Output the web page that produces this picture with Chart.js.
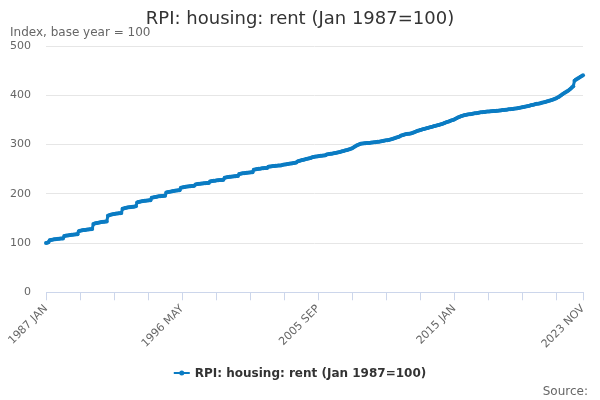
<!DOCTYPE html>
<html>
<head>
<meta charset="utf-8">
<script src="https://cdn.jsdelivr.net/npm/chart.js@4.4.0/dist/chart.umd.min.js"></script>
<style>
  html, body { margin: 0; padding: 0; background: #fff; }
  #wrap { width: 600px; height: 400px; }
</style>
</head>
<body>
<div id="wrap"><canvas id="myChart" width="600" height="400"></canvas></div>
<script>
const TITLE = "RPI: housing: rent (Jan 1987=100)";
const Y_UNITS = "Index, base year = 100";
const SERIES_NAME = "RPI: housing: rent (Jan 1987=100)";
const SOURCE = "Source:";

const years = [1987, 1988, 1989, 1990, 1991, 1992, 1993, 1994, 1995, 1996, 1997, 1998,
	1999, 2000, 2001, 2002, 2003, 2004, 2005, 2006, 2007, 2008, 2009, 2010, 2011, 2012,
	2013, 2014, 2015, 2016, 2017, 2018, 2019, 2020, 2021, 2022, 2023];
const monthNames = ["JAN", "FEB", "MAR", "APR", "MAY", "JUN", "JUL", "AUG", "SEP", "OCT", "NOV", "DEC"];
const lastMonthOfLastYear = 11; // series ends 2023 NOV

// monthly index values, one row per year
const rentValues = [
	100.0, 100.8, 101.5, 105.5, 106.2, 106.7, 107.1, 107.5, 107.9, 108.2, 108.5, 108.8, // 1987
	109.0, 109.2, 109.4, 114.0, 114.6, 115.1, 115.5, 115.9, 116.3, 116.6, 116.9, 117.2, // 1988
	117.5, 117.8, 118.0, 124.0, 124.8, 125.3, 125.8, 126.2, 126.6, 127.0, 127.3, 127.6, // 1989
	127.9, 128.2, 128.5, 138.5, 139.5, 140.2, 140.8, 141.4, 141.9, 142.3, 142.7, 143.0, // 1990
	143.3, 143.6, 143.9, 155.5, 156.5, 157.2, 157.8, 158.4, 158.9, 159.3, 159.7, 160.0, // 1991
	160.3, 160.6, 160.9, 169.5, 170.3, 170.9, 171.5, 172.0, 172.4, 172.8, 173.2, 173.5, // 1992
	173.8, 174.1, 174.4, 182.5, 183.2, 183.8, 184.3, 184.8, 185.2, 185.6, 186.0, 186.3, // 1993
	186.5, 186.7, 186.9, 192.0, 192.6, 193.1, 193.6, 194.0, 194.4, 194.8, 195.1, 195.4, // 1994
	195.6, 195.8, 196.0, 202.5, 203.2, 203.8, 204.3, 204.8, 205.3, 205.7, 206.1, 206.4, // 1995
	206.7, 207.0, 207.2, 212.3, 212.9, 213.4, 213.8, 214.2, 214.6, 214.9, 215.2, 215.5, // 1996
	215.7, 215.9, 216.1, 218.8, 219.3, 219.7, 220.1, 220.4, 220.7, 221.0, 221.3, 221.5, // 1997
	221.7, 221.9, 222.1, 225.0, 225.5, 225.9, 226.3, 226.6, 226.9, 227.2, 227.5, 227.7, // 1998
	227.9, 228.1, 228.3, 232.6, 233.1, 233.6, 234.0, 234.4, 234.7, 235.0, 235.3, 235.6, // 1999
	235.8, 236.0, 236.2, 240.0, 240.6, 241.1, 241.5, 241.9, 242.3, 242.6, 242.9, 243.2, // 2000
	243.4, 243.6, 243.8, 248.8, 249.4, 249.9, 250.3, 250.7, 251.0, 251.3, 251.6, 251.9, // 2001
	252.1, 252.3, 252.5, 255.0, 255.3, 255.6, 255.9, 256.2, 256.5, 256.8, 257.0, 257.2, // 2002
	257.4, 257.6, 257.8, 258.8, 259.2, 259.6, 260.0, 260.4, 260.8, 261.2, 261.6, 262.0, // 2003
	262.4, 263.0, 263.5, 265.5, 266.3, 267.0, 267.8, 268.5, 269.2, 269.8, 270.4, 271.0, // 2004
	271.6, 272.2, 272.8, 274.0, 274.6, 275.1, 275.5, 275.9, 276.3, 276.7, 277.0, 277.3, // 2005
	277.6, 277.9, 278.2, 279.5, 280.0, 280.5, 281.0, 281.4, 281.8, 282.3, 282.8, 283.3, // 2006
	283.8, 284.3, 284.8, 285.8, 286.4, 287.0, 287.6, 288.3, 289.0, 289.8, 290.6, 291.5, // 2007
	292.5, 294.0, 295.5, 297.0, 298.3, 299.5, 300.7, 301.3, 301.8, 302.2, 302.5, 302.7, // 2008
	302.9, 303.1, 303.3, 303.6, 303.9, 304.2, 304.5, 304.8, 305.1, 305.4, 305.7, 306.0, // 2009
	306.4, 306.9, 307.4, 307.9, 308.4, 308.9, 309.4, 309.9, 310.5, 311.2, 312.0, 312.9, // 2010
	313.8, 314.5, 315.3, 316.5, 317.6, 318.6, 319.4, 320.1, 320.7, 321.2, 321.6, 322.0, // 2011
	322.4, 323.0, 323.8, 324.8, 325.8, 326.8, 327.8, 328.6, 329.4, 330.1, 330.8, 331.5, // 2012
	332.2, 332.8, 333.4, 334.2, 334.9, 335.6, 336.3, 337.0, 337.7, 338.3, 338.9, 339.5, // 2013
	340.2, 341.0, 341.8, 342.8, 343.7, 344.6, 345.5, 346.4, 347.3, 348.2, 349.1, 350.0, // 2014
	351.0, 352.2, 353.4, 354.6, 355.7, 356.8, 357.8, 358.6, 359.3, 359.9, 360.4, 360.8, // 2015
	361.2, 361.6, 362.0, 362.5, 362.9, 363.3, 363.7, 364.1, 364.5, 364.9, 365.3, 365.6, // 2016
	365.9, 366.2, 366.5, 366.8, 367.0, 367.2, 367.4, 367.6, 367.8, 368.0, 368.2, 368.4, // 2017
	368.7, 369.0, 369.3, 369.6, 369.9, 370.2, 370.5, 370.8, 371.1, 371.4, 371.7, 372.0, // 2018
	372.3, 372.6, 372.9, 373.3, 373.7, 374.1, 374.5, 375.0, 375.6, 376.2, 376.8, 377.4, // 2019
	377.9, 378.4, 378.9, 379.6, 380.2, 380.8, 381.4, 382.0, 382.5, 383.0, 383.5, 384.0, // 2020
	384.6, 385.2, 385.8, 386.5, 387.2, 387.9, 388.6, 389.4, 390.2, 391.1, 392.0, 393.0, // 2021
	394.0, 395.2, 396.5, 398.5, 400.2, 401.8, 403.4, 405.0, 406.6, 408.2, 409.8, 411.5, // 2022
	413.5, 416.0, 418.5, 429.5, 431.5, 433.0, 434.5, 436.0, 437.5, 439.0, 440.5         // 2023
];

const tickLabels = ["1987 JAN", "1996 MAY", "2005 SEP", "2015 JAN", "2023 NOV"];
const yTicks = [0, 100, 200, 300, 400, 500];
const TICK_EVERY = 28; // months between x tick marks

const LINE_COLOUR = "#0b7cc3";
const FONT = "'DejaVu Sans', sans-serif";

// build "1987 JAN" style category labels
const labels = [];
for (let y = 0; y < years.length; y++) {
	const monthsInYear = (y === years.length - 1) ? lastMonthOfLastYear : 12;
	for (let m = 0; m < monthsInYear; m++) {
		labels.push(years[y] + " " + monthNames[m]);
	}
}

// titles, legend and source drawn straight onto the canvas
const textPlugin = {
	id: "textPlugin",
	afterDraw(chart) {
		const ctx = chart.ctx;
		ctx.save();

		ctx.fillStyle = "#333333";
		ctx.font = "18px " + FONT;
		ctx.textAlign = "center";
		ctx.textBaseline = "alphabetic";
		ctx.fillText(TITLE, 300, 24);

		ctx.fillStyle = "#666666";
		ctx.font = "12px " + FONT;
		ctx.textAlign = "left";
		ctx.fillText(Y_UNITS, 10, 36);

		ctx.textAlign = "right";
		ctx.fillText(SOURCE, 588, 395);

		// legend: line with dot, then bold name
		ctx.font = "bold 12px " + FONT;
		const textW = ctx.measureText(SERIES_NAME).width;
		const symW = 16;
		const total = symW + 5 + textW;
		const x0 = 300 - total / 2;
		const ly = 373;
		ctx.strokeStyle = LINE_COLOUR;
		ctx.lineWidth = 2;
		ctx.beginPath();
		ctx.moveTo(x0, ly);
		ctx.lineTo(x0 + symW, ly);
		ctx.stroke();
		ctx.fillStyle = LINE_COLOUR;
		ctx.beginPath();
		ctx.arc(x0 + symW / 2, ly, 2.5, 0, Math.PI * 2);
		ctx.fill();
		ctx.fillStyle = "#333333";
		ctx.textAlign = "left";
		ctx.textBaseline = "middle";
		ctx.fillText(SERIES_NAME, x0 + symW + 5, ly + 1);

		ctx.restore();
	}
};

new Chart("myChart", {
	type: "line",
	data: {
		labels: labels,
		datasets: [{
			label: SERIES_NAME,
			data: rentValues,
			borderColor: LINE_COLOUR,
			backgroundColor: LINE_COLOUR,
			borderWidth: 3,
			pointRadius: 2,
			pointBorderWidth: 0,
			pointBackgroundColor: LINE_COLOUR,
			tension: 0
		}]
	},
	options: {
		responsive: false,
		animation: false,
		devicePixelRatio: 1,
		layout: {
			padding: { left: 10, right: 17, top: 46, bottom: 47 }
		},
		plugins: {
			legend: { display: false },
			title: { display: false },
			tooltip: { enabled: false }
		},
		scales: {
			x: {
				type: "category",
				offset: false,
				afterBuildTicks(scale) {
					const ticks = [];
					for (let i = 0; i < labels.length; i += TICK_EVERY) {
						ticks.push({ value: i });
					}
					ticks.push({ value: labels.length - 1 });
					scale.ticks = ticks;
				},
				// the rotated first label may hang past the plot's left edge
				afterFit(scale) {
					scale.paddingLeft = 0;
					scale.paddingRight = 0;
				},
				ticks: {
					autoSkip: false,
					minRotation: 45,
					maxRotation: 45,
					color: "#666666",
					font: { family: FONT, size: 11 },
					padding: 2,
					callback(value) {
						const lbl = this.getLabelForValue(value);
						return tickLabels.includes(lbl) ? lbl : "";
					}
				},
				grid: {
					drawOnChartArea: false,
					drawTicks: true,
					tickLength: 8,
					color: "#ccd6eb"
				},
				border: { display: true, color: "#ccd6eb" }
			},
			y: {
				min: 0,
				max: 500,
				afterBuildTicks(scale) {
					scale.ticks = yTicks.map(v => ({ value: v }));
				},
				// fixed axis width so the plot starts at x=46
				afterFit(scale) {
					scale.width = 36;
				},
				ticks: {
					color: "#666666",
					font: { family: FONT, size: 11 },
					padding: 15
				},
				grid: {
					color: "#e6e6e6",
					drawTicks: false
				},
				border: { display: false }
			}
		}
	},
	plugins: [textPlugin]
});
</script>
</body>
</html>
